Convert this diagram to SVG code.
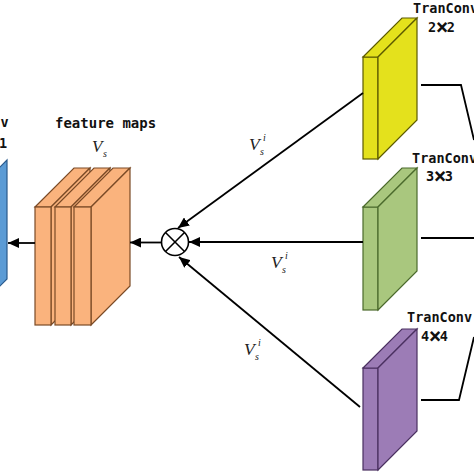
<svg xmlns="http://www.w3.org/2000/svg" width="474" height="474" viewBox="0 0 474 474">
<style>
.lbl{font-family:"DejaVu Sans Mono","Liberation Mono",monospace;font-weight:bold;font-size:13.5px;fill:#111}
.x{font-size:21px;letter-spacing:-1.5px}
.math{font-family:"Liberation Serif","Times New Roman",serif;font-style:italic;fill:#222}
.con{stroke:#000;stroke-width:1.8;fill:none}
.orange{fill:#FAB37D;stroke:#7A4A26;stroke-width:1.2}
.yellow{fill:#E4E11C;stroke:#5C5A00;stroke-width:1.2}
.green{fill:#A9C77E;stroke:#4B6A2C;stroke-width:1.2}
.purple{fill:#9C7CB6;stroke:#4A3060;stroke-width:1.2}
.blue{fill:#5B9BD5;stroke:#2A5A8C;stroke-width:1.2}
</style>
<defs>
<marker id="ah" markerUnits="userSpaceOnUse" markerWidth="11" markerHeight="10" refX="11" refY="5" orient="auto">
<path d="M0,0 L11,5 L0,10 z" fill="#000"/>
</marker>
</defs>
<rect width="474" height="474" fill="#fff"/>

<g id="conv-left">
<polygon class="blue" points="-50,217 7,160 7,279 -50,336"/>
<text class="lbl" x="0.5" y="127">v</text>
<text class="lbl" x="-1" y="148">1</text>
</g>

<g id="feature-maps">
<polygon class="orange" points="35,207 51,207 90,168 74,168"/>
<polygon class="orange" points="51,207 90,168 90,286 51,325"/>
<rect class="orange" x="35" y="207" width="16" height="118"/>
<polygon class="orange" points="55,207 71,207 110,168 94,168"/>
<polygon class="orange" points="71,207 110,168 110,286 71,325"/>
<rect class="orange" x="55" y="207" width="16" height="118"/>
<polygon class="orange" points="74,207 91,207 130,168 113,168"/>
<polygon class="orange" points="91,207 130,168 130,286 91,325"/>
<rect class="orange" x="74" y="207" width="17" height="118"/>
<text class="lbl" x="55" y="128" style="font-size:14px">feature maps</text>
<text class="math" x="92" y="152" font-size="17">V</text>
<text class="math" x="103" y="157" font-size="10">s</text>
</g>

<g id="multiply">
<circle cx="175" cy="242" r="13.5" fill="#fff" stroke="#000" stroke-width="1.6"/>
<line x1="165.5" y1="232.5" x2="184.5" y2="251.5" stroke="#000" stroke-width="1.6"/>
<line x1="184.5" y1="232.5" x2="165.5" y2="251.5" stroke="#000" stroke-width="1.6"/>
</g>

<g id="tranconv2">
<rect class="yellow" x="363" y="57" width="15" height="102"/>
<polygon class="yellow" points="363,57 378,57 417,18 402,18"/>
<polygon class="yellow" points="378,57 417,18 417,120 378,159"/>
<text class="lbl" x="413" y="13">TranConv</text>
<text class="lbl" x="428" y="32">2<tspan class="x" dx="-0.5" dy="2">×</tspan><tspan dy="-2">2</tspan></text>
</g>

<g id="tranconv3">
<rect class="green" x="363" y="207" width="15" height="103"/>
<polygon class="green" points="363,207 378,207 417,168 402,168"/>
<polygon class="green" points="378,207 417,168 417,271 378,310"/>
<text class="lbl" x="412" y="163">TranConv</text>
<text class="lbl" x="426" y="181">3<tspan class="x" dx="-0.5" dy="2">×</tspan><tspan dy="-2">3</tspan></text>
</g>

<g id="tranconv4">
<rect class="purple" x="363" y="368" width="15" height="102"/>
<polygon class="purple" points="363,368 378,368 417,329 402,329"/>
<polygon class="purple" points="378,368 417,329 417,431 378,470"/>
<text class="lbl" x="407" y="322">TranConv</text>
<text class="lbl" x="421" y="341">4<tspan class="x" dx="-0.5" dy="2">×</tspan><tspan dy="-2">4</tspan></text>
</g>

<g id="connectors">
<line class="con" x1="35" y1="243" x2="8" y2="243" marker-end="url(#ah)"/>
<line class="con" x1="161" y1="242.5" x2="130" y2="242.5" marker-end="url(#ah)"/>
<line class="con" x1="363" y1="93" x2="178" y2="228" marker-end="url(#ah)"/>
<line class="con" x1="363" y1="242" x2="189" y2="242" marker-end="url(#ah)"/>
<line class="con" x1="360" y1="407" x2="179" y2="257" marker-end="url(#ah)"/>
<polyline class="con" points="421,85 461,85 474,140"/>
<line class="con" x1="421" y1="238" x2="474" y2="238"/>
<polyline class="con" points="421,400 459,400 474,337"/>
<text class="math" x="249" y="150" font-size="17.5">V</text>
<text class="math" x="260" y="155" font-size="10">s</text>
<text class="math" x="263" y="141" font-size="10">i</text>
<text class="math" x="271" y="268" font-size="17.5">V</text>
<text class="math" x="282" y="273" font-size="10">s</text>
<text class="math" x="285" y="259" font-size="10">i</text>
<text class="math" x="244" y="355" font-size="17.5">V</text>
<text class="math" x="255" y="360" font-size="10">s</text>
<text class="math" x="258" y="346" font-size="10">i</text>
</g>
</svg>
